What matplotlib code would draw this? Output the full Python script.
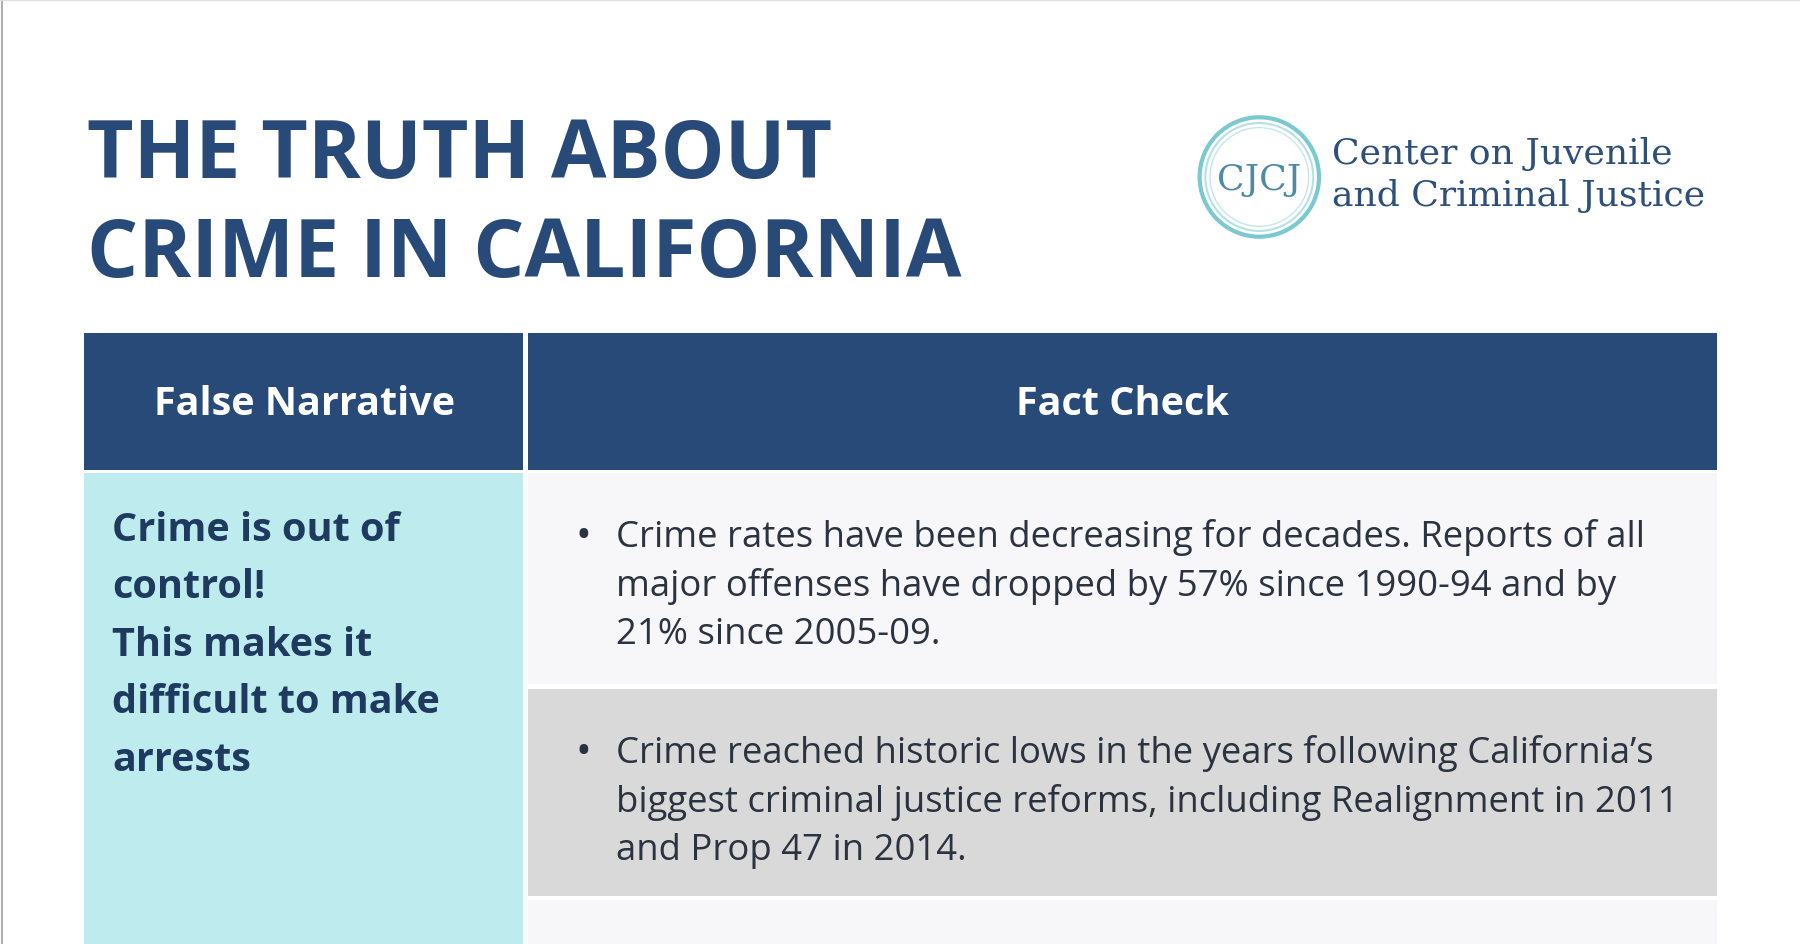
import matplotlib.pyplot as plt
import matplotlib.patches as mpatches

W, H = 1568, 823

title_lines = ['THE TRUTH ABOUT', 'CRIME IN CALIFORNIA']
header_labels = ['False Narrative', 'Fact Check']
narrative_lines = ['Crime is out of', 'control!', 'This makes it', 'difficult to make', 'arrests']
fact_rows = [
    ['Crime rates have been decreasing for decades. Reports of all',
     'major offenses have dropped by 57% since 1990-94 and by',
     '21% since 2005-09.'],
    ['Crime reached historic lows in the years following California\u2019s',
     'biggest criminal justice reforms, including Realignment in 2011',
     'and Prop 47 in 2014.'],
]

NAVY = '#284a78'
plt.rcParams['font.family'] = ['Open Sans', 'DejaVu Sans']

fig = plt.figure(figsize=(18, 9.45), dpi=100)
ax = fig.add_axes([0, 0, 1, 1])
ax.set_xlim(0, W)
ax.set_ylim(H, 0)
ax.axis('off')

def rect(x0, y0, x1, y1, c):
    ax.add_patch(mpatches.Rectangle((x0, y0), x1 - x0, y1 - y0, color=c, lw=0))

# page border
ax.plot([2, 2], [0, H], color='#b0b0b0', lw=1.5)
ax.plot([0, W], [1, 1], color='#e0e0e0', lw=1)

# title
for i, t in enumerate(title_lines):
    ax.text(76, 137 + i * 86, t, fontsize=58, fontweight='bold', color=NAVY,
            va='center', ha='left')

# logo
for r, lw, a in [(52, 3, 0.9), (47, 1.5, 0.5), (43, 1, 0.4)]:
    ax.add_patch(mpatches.Circle((1097, 155), r, fill=False, ec='#6cc3cc', lw=lw, alpha=a))
ax.text(1097, 157, 'CJCJ', fontsize=26, family='DejaVu Serif', color='#4f8aa5',
        ha='center', va='center')
ax.text(1160, 134, 'Center on Juvenile', fontsize=26, family='DejaVu Serif',
        color='#2d4f7c', va='center')
ax.text(1160, 171, 'and Criminal Justice', fontsize=26, family='DejaVu Serif',
        color='#2d4f7c', va='center')

# header
rect(73, 291, 456, 410, NAVY)
rect(460, 291, 1496, 410, NAVY)
ax.text(265, 352, header_labels[0], fontsize=28.5, fontweight='bold', color='white',
        ha='center', va='center')
ax.text(978, 352, header_labels[1], fontsize=28.5, fontweight='bold', color='white',
        ha='center', va='center')

# left cell
rect(73, 413, 456, H, '#bdebee')
for i, t in enumerate(narrative_lines):
    ax.text(98, 462 + i * 50, t, fontsize=28.5, fontweight='bold', color='#1f3a5f',
            va='center')

# right rows
row_spans = [(413, 597, '#f7f6f8'), (601, 781, '#d9d9d9')]
for (y0, y1, c), lines in zip(row_spans, fact_rows):
    rect(460, y0, 1496, y1, c)
    ys = y0 + 55
    ax.text(508, ys, '\u2022', fontsize=30, color='#2b3340', ha='center', va='center')
    for j, t in enumerate(lines):
        ax.text(537, ys + j * 42.5, t, fontsize=26.3, color='#2b3340', va='center')
rect(460, 785, 1496, H, '#f7f6f8')

fig.savefig('out.png', dpi=100)
